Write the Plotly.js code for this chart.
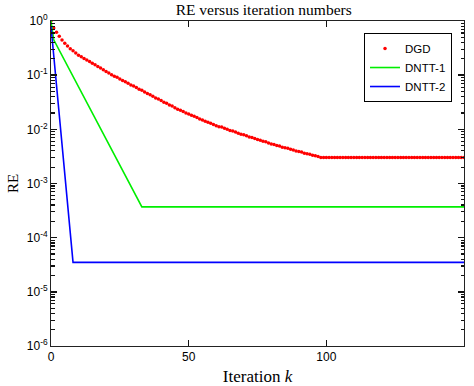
<!DOCTYPE html>
<html>
<head>
<meta charset="utf-8">
<script src="https://cdn.plot.ly/plotly-3.0.1.min.js"></script>
<style>html,body{margin:0;padding:0;background:#fff;}#chart{width:474px;height:386px;}</style>
</head>
<body>
<div id="chart"></div>
<script>
// RE of DGD at each iteration k = 0..150
const dgdRE = [
  1.0, 0.741, 0.617, 0.525, 0.447, 0.389, 0.347, 0.309, 0.282, 0.257,
  0.234, 0.219, 0.204, 0.191, 0.178, 0.166, 0.155, 0.145, 0.135, 0.126,
  0.117, 0.110, 0.102, 0.0955, 0.0912, 0.0851, 0.0794, 0.0759, 0.0708, 0.0661,
  0.0631, 0.0589, 0.0550, 0.0525, 0.0490, 0.0457, 0.0437, 0.0407, 0.0380, 0.0363,
  0.0339, 0.0316, 0.0302, 0.0282, 0.0269, 0.0251, 0.0234, 0.0224, 0.0214, 0.0200,
  0.0191, 0.0182, 0.0174, 0.0166, 0.0155, 0.0148, 0.0141, 0.0135, 0.0129, 0.0123,
  0.0117, 0.0112, 0.0110, 0.0105, 0.0100, 0.00955, 0.00933, 0.00891, 0.00851, 0.00813,
  0.00794, 0.00759, 0.00724, 0.00708, 0.00676, 0.00646, 0.00631, 0.00603, 0.00589, 0.00562,
  0.00537, 0.00525, 0.00501, 0.00490, 0.00468, 0.00457, 0.00447, 0.00427, 0.00417, 0.00398,
  0.00389, 0.00380, 0.00363, 0.00355, 0.00347, 0.00331, 0.00324, 0.00316, 0.00302, 0.00302,
  0.00302, 0.00302, 0.00302, 0.00302, 0.00302, 0.00302, 0.00302, 0.00302, 0.00302, 0.00302,
  0.00302, 0.00302, 0.00302, 0.00302, 0.00302, 0.00302, 0.00302, 0.00302, 0.00302, 0.00302,
  0.00302, 0.00302, 0.00302, 0.00302, 0.00302, 0.00302, 0.00302, 0.00302, 0.00302, 0.00302,
  0.00302, 0.00302, 0.00302, 0.00302, 0.00302, 0.00302, 0.00302, 0.00302, 0.00302, 0.00302,
  0.00302, 0.00302, 0.00302, 0.00302, 0.00302, 0.00302, 0.00302, 0.00302, 0.00302, 0.00302,
  0.00302
];
const dgdK = dgdRE.map((_, i) => i);

// DNTT-1 breakpoints
const dntt1K  = [0, 1, 33, 150];
const dntt1RE = [1.0, 0.45, 3.7e-4, 3.7e-4];

// DNTT-2 breakpoints
const dntt2K  = [0, 8, 150];
const dntt2RE = [0.8, 3.5e-5, 3.5e-5];

const yTickVals = [1e-6, 1e-5, 1e-4, 1e-3, 1e-2, 1e-1, 1];
const yTickText = ['10<sup>-6</sup>', '10<sup>-5</sup>', '10<sup>-4</sup>', '10<sup>-3</sup>', '10<sup>-2</sup>', '10<sup>-1</sup>', '10<sup>0</sup>'];
const xTickVals = [0, 50, 100, 150];

// minor log tick positions (2..9 per decade)
const yMinorVals = [];
for (let e = -6; e < 0; e++) for (let m = 2; m <= 9; m++) yMinorVals.push(m * Math.pow(10, e));

const traces = [
  {x: dgdK, y: dgdRE, name: 'DGD', type: 'scatter', mode: 'markers',
   marker: {color: '#ff0000', size: 3.5}},
  {x: dntt1K, y: dntt1RE, name: 'DNTT-1', type: 'scatter', mode: 'lines',
   line: {color: '#00ee00', width: 1.6}},
  {x: dntt2K, y: dntt2RE, name: 'DNTT-2', type: 'scatter', mode: 'lines',
   line: {color: '#0000ff', width: 1.6}}
];

const sans = 'Liberation Sans, Arial, sans-serif';
const serif = 'Liberation Serif, Times New Roman, serif';

const layout = {
  width: 474, height: 386,
  margin: {l: 51, r: 10, t: 21, b: 40, pad: 0},
  showlegend: true,
  title: {text: 'RE versus iteration numbers', font: {family: serif, size: 15.5, color: '#000'},
          x: 0.515, xref: 'paper', xanchor: 'center', y: 0.975, yanchor: 'middle'},
  xaxis: {
    range: [0, 150], tickmode: 'array', tickvals: xTickVals, ticks: 'inside', ticklen: 6, tickwidth: 1.5, tickcolor: '#111',
    showline: true, linecolor: '#222', mirror: 'ticks', showgrid: false, zeroline: false,
    tickfont: {family: sans, size: 12, color: '#000'},
    title: {text: 'Iteration <i>k</i>', font: {family: serif, size: 17, color: '#000'}, standoff: 8}
  },
  yaxis: {
    type: 'log', range: [-6, 0], tickmode: 'array', tickvals: yTickVals, ticktext: yTickText,
    ticks: 'inside', ticklen: 6, tickwidth: 1.5, tickcolor: '#111',
    minor: {tickmode: 'array', tickvals: yMinorVals, ticks: 'inside', ticklen: 3.5, tickwidth: 1.2, tickcolor: '#111'},
    showline: true, linecolor: '#222', mirror: 'ticks', showgrid: false, zeroline: false,
    tickfont: {family: sans, size: 12, color: '#000'},
    title: {text: 'RE', font: {family: serif, size: 15, color: '#000'}, standoff: 4}
  },
  legend: {
    x: 0.971, y: 0.963, xanchor: 'right', yanchor: 'top',
    bgcolor: '#fff', bordercolor: '#000', borderwidth: 1,
    font: {family: sans, size: 11.5, color: '#000'},
    itemwidth: 30, tracegroupgap: 0
  }
};

Plotly.newPlot('chart', traces, layout, {displayModeBar: false, staticPlot: true});
</script>
</body>
</html>
